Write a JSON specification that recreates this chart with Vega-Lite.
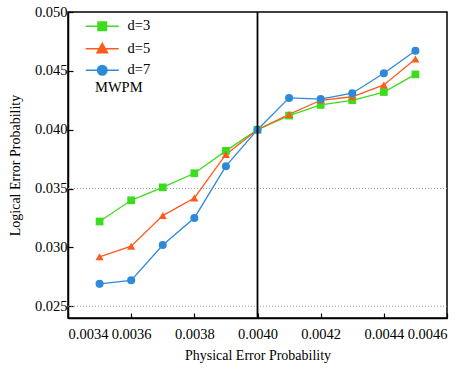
{
  "$schema": "https://vega.github.io/schema/vega-lite/v6.json",
  "width": 379,
  "height": 306,
  "autosize": {"type": "none"},
  "padding": {"left": 68, "top": 12, "right": 27, "bottom": 52},
  "background": "white",
  "config": {
    "view": {"stroke": "black", "strokeWidth": 1.5},
    "font": "Liberation Serif"
  },
  "datasets": {
    "series": [
      {"p": 0.0035, "d": "d=3", "ler": 0.0322},
      {"p": 0.0036, "d": "d=3", "ler": 0.0340},
      {"p": 0.0037, "d": "d=3", "ler": 0.0351},
      {"p": 0.0038, "d": "d=3", "ler": 0.0363},
      {"p": 0.0039, "d": "d=3", "ler": 0.0382},
      {"p": 0.0040, "d": "d=3", "ler": 0.0400},
      {"p": 0.0041, "d": "d=3", "ler": 0.0412},
      {"p": 0.0042, "d": "d=3", "ler": 0.0421},
      {"p": 0.0043, "d": "d=3", "ler": 0.0425},
      {"p": 0.0044, "d": "d=3", "ler": 0.0432},
      {"p": 0.0045, "d": "d=3", "ler": 0.0447},
      {"p": 0.0035, "d": "d=5", "ler": 0.0292},
      {"p": 0.0036, "d": "d=5", "ler": 0.0301},
      {"p": 0.0037, "d": "d=5", "ler": 0.0327},
      {"p": 0.0038, "d": "d=5", "ler": 0.0342},
      {"p": 0.0039, "d": "d=5", "ler": 0.0379},
      {"p": 0.0040, "d": "d=5", "ler": 0.0400},
      {"p": 0.0041, "d": "d=5", "ler": 0.0413},
      {"p": 0.0042, "d": "d=5", "ler": 0.0425},
      {"p": 0.0043, "d": "d=5", "ler": 0.0428},
      {"p": 0.0044, "d": "d=5", "ler": 0.0438},
      {"p": 0.0045, "d": "d=5", "ler": 0.0460},
      {"p": 0.0035, "d": "d=7", "ler": 0.0269},
      {"p": 0.0036, "d": "d=7", "ler": 0.0272},
      {"p": 0.0037, "d": "d=7", "ler": 0.0302},
      {"p": 0.0038, "d": "d=7", "ler": 0.0325},
      {"p": 0.0039, "d": "d=7", "ler": 0.0369},
      {"p": 0.0040, "d": "d=7", "ler": 0.0400},
      {"p": 0.0041, "d": "d=7", "ler": 0.0427},
      {"p": 0.0042, "d": "d=7", "ler": 0.0426},
      {"p": 0.0043, "d": "d=7", "ler": 0.0431},
      {"p": 0.0044, "d": "d=7", "ler": 0.0448},
      {"p": 0.0045, "d": "d=7", "ler": 0.0467}
    ],
    "grid": [{"ler": 0.025}, {"ler": 0.035}],
    "threshold": [{"p": 0.0040}]
  },
  "layer": [
    {
      "data": {"name": "grid"},
      "mark": {"type": "rule", "color": "#9a9a9a", "strokeDash": [1, 2], "strokeWidth": 1},
      "encoding": {
        "y": {"field": "ler", "type": "quantitative", "scale": {"domain": [0.024, 0.05], "nice": false, "zero": false}}
      }
    },
    {
      "data": {"name": "series"},
      "mark": {"type": "line", "strokeWidth": 1.3},
      "encoding": {
        "x": {
          "field": "p", "type": "quantitative",
          "scale": {"domain": [0.0034, 0.0046], "nice": false, "zero": false},
          "axis": {
            "title": "Physical Error Probability",
            "values": [0.0034, 0.0035, 0.0036, 0.0037, 0.0038, 0.0039, 0.0040, 0.0041, 0.0042, 0.0043, 0.0044, 0.0045, 0.0046],
            "labelExpr": "abs(datum.value*5000 - round(datum.value*5000)) < 0.01 ? format(datum.value, '.4f') : ''",
            "grid": false,
            "domainColor": "black", "domainWidth": 1.5,
            "tickColor": "black", "tickWidth": 1.2,
            "tickSize": {"condition": {"test": "abs(datum.value*5000 - round(datum.value*5000)) < 0.01", "value": -5}, "value": -3},
            "labelPadding": 14,
            "labelFont": "Liberation Serif", "labelFontSize": 14.5, "labelColor": "black",
            "titleFont": "Liberation Serif", "titleFontSize": 14, "titleFontWeight": "normal", "titleColor": "black",
            "titlePadding": 8
          }
        },
        "y": {
          "field": "ler", "type": "quantitative",
          "scale": {"domain": [0.024, 0.05], "nice": false, "zero": false},
          "axis": {
            "title": "Logical Error Probability",
            "values": [0.025, 0.0275, 0.03, 0.0325, 0.035, 0.0375, 0.04, 0.0425, 0.045, 0.0475, 0.05],
            "labelExpr": "abs(datum.value*200 - round(datum.value*200)) < 0.01 ? format(datum.value, '.3f') : ''",
            "grid": false,
            "domainColor": "black", "domainWidth": 1.5,
            "tickColor": "black", "tickWidth": 1.2,
            "tickSize": {"condition": {"test": "abs(datum.value*200 - round(datum.value*200)) < 0.01", "value": -5}, "value": -3},
            "labelPadding": 6,
            "labelFont": "Liberation Serif", "labelFontSize": 14.5, "labelColor": "black",
            "titleFont": "Liberation Serif", "titleFontSize": 14, "titleFontWeight": "normal", "titleColor": "black",
            "titlePadding": 12
          }
        },
        "color": {
          "field": "d", "type": "nominal",
          "scale": {"domain": ["d=3", "d=5", "d=7"], "range": ["#3cdc1e", "#ff5a1e", "#2e8ad8"]},
          "legend": {
            "orient": "none", "legendX": 27, "legendY": 7,
            "title": "MWPM", "titleOrient": "bottom", "titleFont": "Liberation Serif", "titleFontSize": 14.5,
            "titleFontWeight": "normal", "titleColor": "black", "titlePadding": 3, "titleAnchor": "start",
            "labelFont": "Liberation Serif", "labelFontSize": 14.5, "labelColor": "black",
            "labelOffset": 18, "rowPadding": 5.5, "padding": 0,
            "symbolSize": 100, "symbolStrokeWidth": 1.5,
            "encode": {
              "symbols": {
                "update": {
                  "shape": {"signal": "datum.value === 'd=3' ? 'M-3.3,0H3.3M-0.85,-0.85H0.85V0.85H-0.85Z' : datum.value === 'd=5' ? 'M-3.3,0H3.3M0,-1.1L1.05,0.8H-1.05Z' : 'M-3.3,0H3.3M0.95,0A0.95,0.95,0,1,1,-0.95,0A0.95,0.95,0,1,1,0.95,0Z'"},
                  "fill": {"scale": "color", "field": "value"},
                  "stroke": {"scale": "color", "field": "value"},
                  "strokeWidth": {"value": 1.5}
                }
              }
            }
          }
        }
      }
    },
    {
      "data": {"name": "series"},
      "transform": [{"filter": "datum.d === 'd=3'"}],
      "mark": {"type": "point", "filled": true, "opacity": 1, "size": 60, "shape": "square", "color": "#3cdc1e"},
      "encoding": {
        "x": {"field": "p", "type": "quantitative"},
        "y": {"field": "ler", "type": "quantitative"}
      }
    },
    {
      "data": {"name": "series"},
      "transform": [{"filter": "datum.d === 'd=5'"}],
      "mark": {"type": "point", "filled": true, "opacity": 1, "size": 65, "shape": "triangle-up", "color": "#ff5a1e"},
      "encoding": {
        "x": {"field": "p", "type": "quantitative"},
        "y": {"field": "ler", "type": "quantitative"}
      }
    },
    {
      "data": {"name": "series"},
      "transform": [{"filter": "datum.d === 'd=7'"}],
      "mark": {"type": "point", "filled": true, "opacity": 1, "size": 65, "shape": "circle", "color": "#2e8ad8"},
      "encoding": {
        "x": {"field": "p", "type": "quantitative"},
        "y": {"field": "ler", "type": "quantitative"}
      }
    },
    {
      "data": {"name": "threshold"},
      "mark": {"type": "rule", "color": "black", "strokeWidth": 1.8},
      "encoding": {
        "x": {"field": "p", "type": "quantitative"}
      }
    }
  ]
}
